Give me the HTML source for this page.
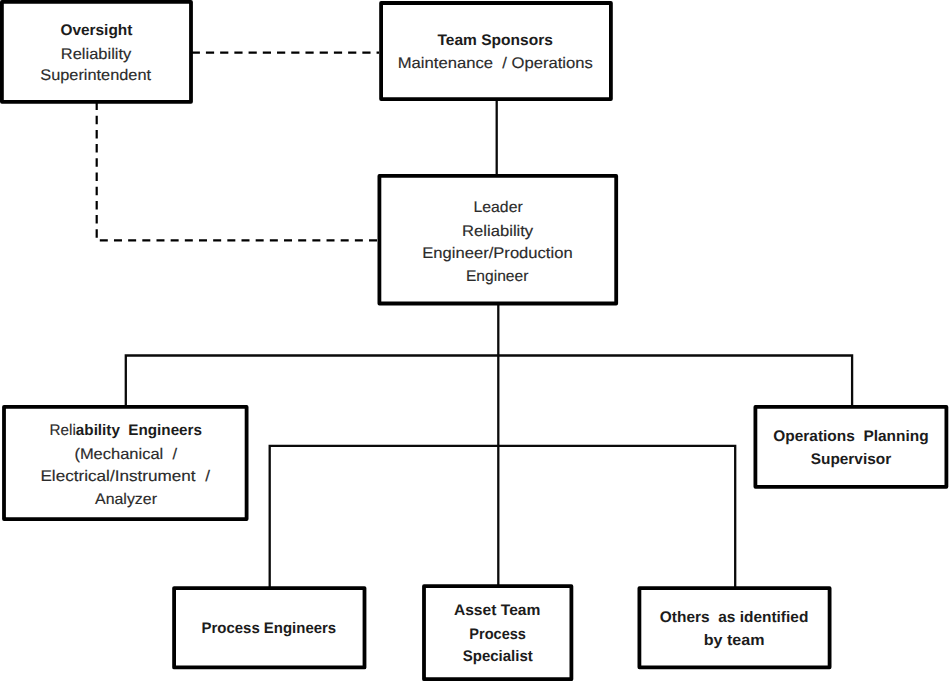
<!DOCTYPE html><html><head><meta charset="utf-8"><style>html,body{margin:0;padding:0;background:#fff;width:950px;height:683px;overflow:hidden}svg{display:block}text{font-family:"Liberation Sans",sans-serif;white-space:pre;text-rendering:geometricPrecision}</style></head><body>
<svg width="950" height="683" viewBox="0 0 950 683">
<path d="M496.7 99 L496.7 176" fill="none" stroke="#0a0a0a" stroke-width="2.3" stroke-linejoin="miter"/>
<path d="M498.3 303 L498.3 586" fill="none" stroke="#0a0a0a" stroke-width="2.3" stroke-linejoin="miter"/>
<path d="M125.8 407 L125.8 355.5 L852.1 355.5 L852.1 407" fill="none" stroke="#0a0a0a" stroke-width="2.3" stroke-linejoin="miter"/>
<path d="M269.7 589 L269.7 445.8 L735.2 445.8 L735.2 589" fill="none" stroke="#0a0a0a" stroke-width="2.3" stroke-linejoin="miter"/>
<path d="M191.7 52.7 L379 52.7" fill="none" stroke="#000" stroke-width="2.2" stroke-dasharray="8.2 6.02" stroke-dashoffset="0"/>
<path d="M96.7 101.5 L96.7 238.5" fill="none" stroke="#000" stroke-width="2.2" stroke-dasharray="8.5 5.7" stroke-dashoffset="0"/>
<path d="M99.8 240.3 L378 240.3" fill="none" stroke="#000" stroke-width="2.2" stroke-dasharray="8.0 6.17" stroke-dashoffset="0"/>
<rect x="1.9" y="1.9" width="189.10" height="99.90" fill="#fff" stroke="#000" stroke-width="3.8" stroke-linejoin="round"/>
<rect x="381.1" y="3.0" width="229.80" height="96.10" fill="#fff" stroke="#000" stroke-width="3.8" stroke-linejoin="round"/>
<rect x="379.4" y="175.9" width="236.80" height="127.60" fill="#fff" stroke="#000" stroke-width="3.8" stroke-linejoin="round"/>
<rect x="4.0" y="406.9" width="242.60" height="112.20" fill="#fff" stroke="#000" stroke-width="3.8" stroke-linejoin="round"/>
<rect x="755.4" y="406.9" width="191.00" height="79.90" fill="#fff" stroke="#000" stroke-width="3.8" stroke-linejoin="round"/>
<rect x="174.1" y="588.1" width="190.40" height="79.30" fill="#fff" stroke="#000" stroke-width="3.8" stroke-linejoin="round"/>
<rect x="424.0" y="586.2" width="147.40" height="93.00" fill="#fff" stroke="#000" stroke-width="3.8" stroke-linejoin="round"/>
<rect x="639.4" y="588.2" width="190.20" height="79.10" fill="#fff" stroke="#000" stroke-width="3.8" stroke-linejoin="round"/>
<text transform="translate(60.40,35) scale(1.0036,1)" font-size="15.36"><tspan font-weight="bold" fill="#1c1c1c" stroke="#1c1c1c" stroke-width="0.0">Oversight</tspan></text>
<text transform="translate(60.80,59) scale(1.0722,1)" font-size="15.36"><tspan font-weight="normal" fill="#2b2b2b" stroke="#2b2b2b" stroke-width="0.15">Reliability</tspan></text>
<text transform="translate(40.30,80) scale(1.0630,1)" font-size="15.36"><tspan font-weight="normal" fill="#2b2b2b" stroke="#2b2b2b" stroke-width="0.15">Superintendent</tspan></text>
<text transform="translate(437.50,45) scale(1.0110,1)" font-size="15.36"><tspan font-weight="bold" fill="#1c1c1c" stroke="#1c1c1c" stroke-width="0.0">Team Sponsors</tspan></text>
<text transform="translate(397.70,68) scale(1.0832,1)" font-size="15.36"><tspan font-weight="normal" fill="#2b2b2b" stroke="#2b2b2b" stroke-width="0.15">Maintenance  / Operations</tspan></text>
<text transform="translate(473.50,212) scale(1.0281,1)" font-size="15.36"><tspan font-weight="normal" fill="#2b2b2b" stroke="#2b2b2b" stroke-width="0.15">Leader</tspan></text>
<text transform="translate(462.10,236) scale(1.0814,1)" font-size="15.36"><tspan font-weight="normal" fill="#2b2b2b" stroke="#2b2b2b" stroke-width="0.15">Reliability</tspan></text>
<text transform="translate(422.30,258) scale(1.0799,1)" font-size="15.36"><tspan font-weight="normal" fill="#2b2b2b" stroke="#2b2b2b" stroke-width="0.15">Engineer/Production</tspan></text>
<text transform="translate(465.90,281) scale(1.0158,1)" font-size="15.36"><tspan font-weight="normal" fill="#2b2b2b" stroke="#2b2b2b" stroke-width="0.15">Engineer</tspan></text>
<text transform="translate(49.60,435) scale(0.9918,1)" font-size="15.36"><tspan font-weight="normal" fill="#2b2b2b" stroke="#2b2b2b" stroke-width="0.15">Reli</tspan><tspan font-weight="bold" fill="#1c1c1c" stroke="#1c1c1c" stroke-width="0.0">ability  Engineers</tspan></text>
<text transform="translate(74.40,459) scale(1.0729,1)" font-size="15.36"><tspan font-weight="normal" fill="#2b2b2b" stroke="#2b2b2b" stroke-width="0.15">(Mechanical  /</tspan></text>
<text transform="translate(40.40,481) scale(1.1157,1)" font-size="15.36"><tspan font-weight="normal" fill="#2b2b2b" stroke="#2b2b2b" stroke-width="0.15">Electrical/Instrument  /</tspan></text>
<text transform="translate(95.00,504) scale(1.0375,1)" font-size="15.36"><tspan font-weight="normal" fill="#2b2b2b" stroke="#2b2b2b" stroke-width="0.15">Analyzer</tspan></text>
<text transform="translate(773.30,441) scale(1.0054,1)" font-size="15.36"><tspan font-weight="bold" fill="#1c1c1c" stroke="#1c1c1c" stroke-width="0.0">Operations  Planning</tspan></text>
<text transform="translate(810.70,464) scale(1.0029,1)" font-size="15.36"><tspan font-weight="bold" fill="#1c1c1c" stroke="#1c1c1c" stroke-width="0.0">Supervisor</tspan></text>
<text transform="translate(201.50,633) scale(0.9737,1)" font-size="15.36"><tspan font-weight="bold" fill="#1c1c1c" stroke="#1c1c1c" stroke-width="0.0">Process Engineers</tspan></text>
<text transform="translate(453.90,615) scale(1.0164,1)" font-size="15.36"><tspan font-weight="bold" fill="#1c1c1c" stroke="#1c1c1c" stroke-width="0.0">Asset Team</tspan></text>
<text transform="translate(469.30,639) scale(0.9471,1)" font-size="15.36"><tspan font-weight="bold" fill="#1c1c1c" stroke="#1c1c1c" stroke-width="0.0">Process</tspan></text>
<text transform="translate(462.70,661) scale(0.9771,1)" font-size="15.36"><tspan font-weight="bold" fill="#1c1c1c" stroke="#1c1c1c" stroke-width="0.0">Specialist</tspan></text>
<text transform="translate(659.80,622) scale(1.0060,1)" font-size="15.36"><tspan font-weight="bold" fill="#1c1c1c" stroke="#1c1c1c" stroke-width="0.0">Others  as identified</tspan></text>
<text transform="translate(703.70,645) scale(1.0470,1)" font-size="15.36"><tspan font-weight="bold" fill="#1c1c1c" stroke="#1c1c1c" stroke-width="0.0">by team</tspan></text>
</svg></body></html>
